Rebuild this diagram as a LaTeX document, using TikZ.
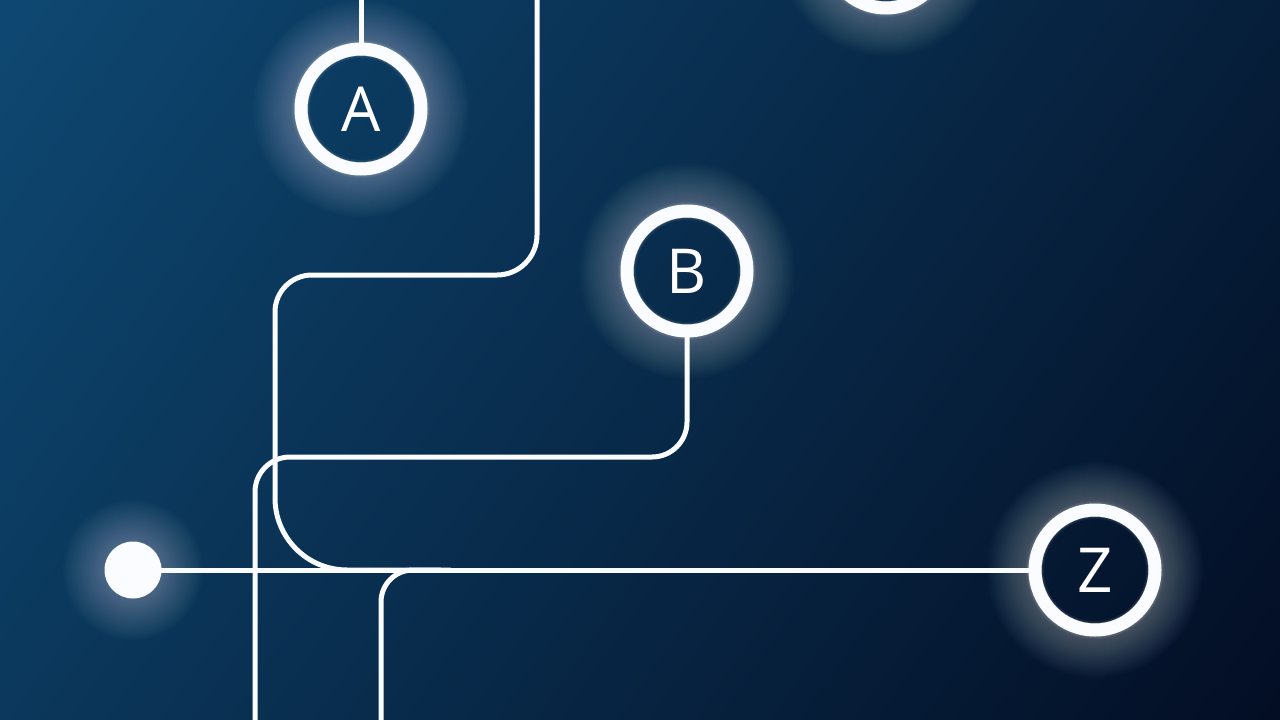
\documentclass[tikz,border=0pt]{standalone}
\usepackage{fontspec}
\setmainfont{Open Sans}
\definecolor{bgA}{RGB}{14,72,114}
\definecolor{bgB}{RGB}{8,40,76}
\definecolor{bgC}{RGB}{3,14,36}
\definecolor{ringW}{RGB}{250,252,255}
\newcommand\glowring[1]{%
  \foreach \r in {68,70,...,108}{\fill[white, opacity=0.016, even odd rule] (#1) circle (\r pt) (#1) circle (53pt);}%
  \foreach \w in {14,16,18}{\draw[white, opacity=0.05, line width=\w pt] (#1) circle (60pt);}%
}
\newcommand\glowdot[1]{%
  \foreach \r in {30,32,...,70}{\fill[white, opacity=0.016] (#1) circle (\r pt);}%
}
\begin{document}
\begin{tikzpicture}[x=1pt,y=-1pt,
  wire/.style={draw=ringW, line width=5pt, line cap=round},
  ring/.style={circle, draw=ringW, line width=13pt, minimum size=120pt, inner sep=0pt,
    text=white, font=\fontsize{62}{62}\selectfont},
  dotnode/.style={circle, fill=ringW, minimum size=57pt, inner sep=0pt}]
\useasboundingbox (0,0) rectangle (1280,720);
\clip (0,0) rectangle (1280,720);
\shade[top color=bgA, middle color=bgB, bottom color=bgC, shading angle=55] (-200,-200) rectangle (1480,920);

% centres
\coordinate (cA) at (361,109);
\coordinate (cB) at (687,271);
\coordinate (cZ) at (1095,570);
\coordinate (cT) at (886,-52);
\coordinate (cD) at (133,570);

\glowring{cA}
\glowring{cB}
\glowring{cZ}
\glowring{cT}
\glowdot{cD}

\coordinate (topA) at (361,-10);
\coordinate (top1) at (537,-10);
\coordinate (join1) at (440,570);
\coordinate (join3) at (450,570);
\coordinate (bot2) at (255,730);
\coordinate (bot3) at (381,730);

\node[ring] (A) at (cA) {A};
\node[ring] (B) at (cB) {B};
\node[ring] (Z) at (cZ) {Z};
\node[ring] (T) at (cT) {};
\node[dotnode] (D) at (cD) {};

% connectors
\draw[wire] (topA) -- (A.north);
\draw[wire] (top1) -- (537,235) arc[start angle=0, end angle=-90, radius=40pt]
  -- (312,275) arc[start angle=90, end angle=180, radius=37pt]
  -- (275,498) arc[start angle=180, end angle=270, radius=72pt] -- (join1);
\draw[wire] (D.east) -- (Z.west);
\draw[wire] (B.south) -- (687,422) arc[start angle=0, end angle=-90, radius=35pt]
  -- (290,457) arc[start angle=90, end angle=180, radius=35pt] -- (bot2);
\draw[wire] (join3) -- (413,570) arc[start angle=90, end angle=180, radius=32pt] -- (bot3);
\end{tikzpicture}
\end{document}
